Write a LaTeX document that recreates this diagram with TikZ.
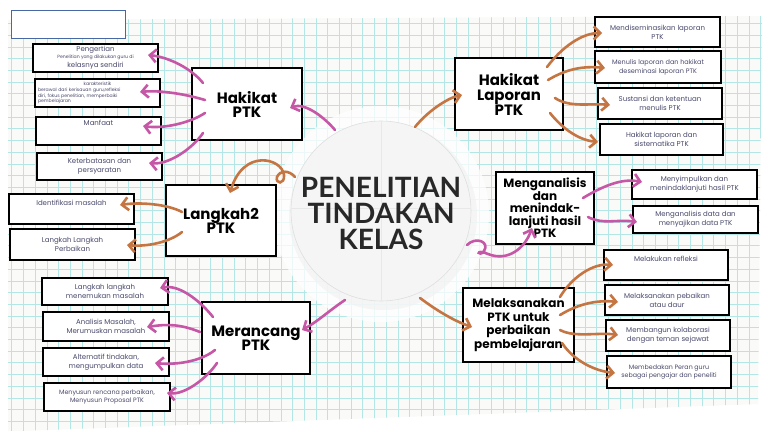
\documentclass[tikz,border=0pt]{standalone}
\usepackage{fontspec}
\usetikzlibrary{arrows.meta,calc}
\newfontfamily\handfont{Poppins}
\newfontfamily\leaffont{Poppins}
\newfontfamily\titlefont{Lato}
\definecolor{pinkc}{RGB}{198,86,166}
\definecolor{orangec}{RGB}{197,117,66}
\definecolor{gridc}{RGB}{180,230,230}
\definecolor{paperc}{RGB}{250,250,248}
\definecolor{leafc}{RGB}{72,72,108}
\definecolor{titlec}{RGB}{40,40,40}
\definecolor{framec}{RGB}{70,105,165}
\tikzset{
  mainbox/.style={draw=black, line width=1.4pt, fill=white, align=center, inner sep=0pt, text=black},
  mainfont/.style={font=\handfont\bfseries\fontsize{#1}{#1}\selectfont},
  leafbox/.style={draw=black, line width=1.3pt, fill=white, minimum width=125pt, minimum height=29pt,
    align=center, inner sep=1pt, text=leafc, font=\leaffont\fontsize{7}{9}\selectfont},
  pinkarrow/.style={draw=pinkc, line width=2.6pt, line cap=round, -{Straight Barb[length=6.5pt,width=13pt]}},
  orangearrow/.style={draw=orangec, line width=2.6pt, line cap=round, -{Straight Barb[length=6.5pt,width=13pt]}}
}
\begin{document}
\begin{tikzpicture}[x=1pt,y=-1pt]
\useasboundingbox (0,0) rectangle (768,431);
\fill[white] (0,0) rectangle (768,431);
% paper with grid
\begin{scope}
  \clip (8,20) -- (762,16) -- (758,404) -- (20,431) -- (8,431) -- cycle;
  \fill[paperc] (0,0) rectangle (768,431);
  \draw[gridc, line width=0.6pt] (0,0) grid[step=11.7pt] (768,431);
\end{scope}
% top-left frame
\node[draw=framec, line width=0.8pt, fill=white, minimum width=114pt, minimum height=28pt, inner sep=0pt] (tl) at (68,24) {};
% central circle
\fill[white, opacity=0.75] (381,214) circle (108);
\fill[gray!12, opacity=0.6] (383,216) circle (94);
\node[circle, fill={rgb,255:red,245;green,245;blue,245}, draw=gray!25, line width=0.6pt, minimum size=180pt, inner sep=0pt] (c) at (381,211) {};
\draw[gray!18, line width=0.5pt] (381,121) -- (381,301);
\draw[gray!18, line width=0.5pt] (291,208) -- (471,208);
\node[align=center, text=titlec, font=\titlefont\bfseries\fontsize{28}{26}\selectfont] (title) at (381,213) {PENELITIAN\\TINDAKAN\\KELAS};

% ---------- Hakikat PTK ----------
\node[mainbox, mainfont=15, minimum width=110pt, minimum height=72pt] (hk) at (247,104) {Hakikat\\[-1pt]PTK};
\node[leafbox, minimum height=28pt] (p1) at (95.5,58) {Pengertian\\[-2pt]\fontsize{4.6}{5.6}\selectfont Penelitian yang dilakukan guru di\\kelasnya sendiri};
\node[leafbox, minimum height=28pt, align=left, text width=119pt, font=\leaffont\fontsize{4.6}{5.8}\selectfont] (p2) at (97.5,93) {\hfill karakteristik\hfill\null\\berawal dari kerisauan guru,refleksi\\diri, fokus penelitian, memperbaiki\\pembelajaran};
\node[leafbox, minimum height=28pt] (p3) at (98.5,131) {Manfaat\\[7pt]\null};
\node[leafbox, minimum height=27pt] (p4) at (99.5,166.5) {Keterbatasan dan\\persyaratan};

% ---------- Langkah2 PTK ----------
\node[mainbox, mainfont=15, minimum width=110pt, minimum height=71pt] (lk) at (221,220.5) {Langkah2\\[-1pt]PTK};
\node[leafbox, minimum height=30pt] (l1) at (71.5,209) {Identifikasi masalah\\[3pt]\null};
\node[leafbox, minimum height=31pt] (l2) at (72.5,244.5) {Langkah Langkah\\Perbaikan};

% ---------- Merancang PTK ----------
\node[mainbox, mainfont=15, minimum width=108pt, minimum height=72pt] (mr) at (256,338) {Merancang\\[-1pt]PTK};
\node[leafbox, minimum width=126pt, minimum height=27pt] (m1) at (105,291.5) {Langkah langkah\\menemukan masalah};
\node[leafbox, minimum width=126pt, minimum height=29pt] (m2) at (106,326.5) {Analisis Masalah,\\Merumuskan masalah};
\node[leafbox, minimum width=126pt, minimum height=28pt] (m3) at (106,362) {Alternatif tindakan,\\mengumpulkan data};
\node[leafbox, minimum width=126pt, minimum height=28pt, font=\leaffont\fontsize{6.3}{8.5}\selectfont] (m4) at (107,397) {Menyusun rencana perbaikan,\\Menyusun Proposal PTK};

% ---------- Hakikat Laporan PTK ----------
\node[mainbox, mainfont=15, minimum width=108pt, minimum height=72pt] (hl) at (509,94) {Hakikat\\Laporan\\PTK};
\node[leafbox, minimum height=30pt] (h1) at (657.5,32) {Mendiseminasikan laporan\\PTK};
\node[leafbox, minimum width=126pt, minimum height=32pt, font=\leaffont\fontsize{6.5}{9}\selectfont] (h2) at (658,67) {Menulis laporan dan hakikat\\deseminasi laporan PTK};
\node[leafbox, minimum width=124pt, minimum height=31pt] (h3) at (660,103.5) {Sustansi dan ketentuan\\menulis PTK};
\node[leafbox, minimum width=123pt, minimum height=31pt] (h4) at (661.5,139.5) {Hakikat laporan dan\\sistematika PTK};

% ---------- Menganalisis ----------
\node[mainbox, minimum width=98pt, minimum height=72pt, font=\handfont\bfseries\fontsize{12}{12.5}\selectfont] (mg) at (545,208) {Menganalisis\\dan\\menindak-\\lanjuti hasil\\PTK};
\node[leafbox, minimum height=29pt] (g1) at (694.5,184.5) {Menyimpulkan dan\\menindaklanjuti hasil PTK};
\node[leafbox, minimum height=27pt] (g2) at (695.5,219.5) {Menganalisis data dan\\menyajikan data PTK};

% ---------- Melaksanakan ----------
\node[mainbox, minimum width=111pt, minimum height=74pt, font=\handfont\bfseries\fontsize{12}{13.5}\selectfont] (ml) at (518.5,325) {Melaksanakan\\PTK untuk\\perbaikan\\pembelajaran};
\node[leafbox, minimum width=124pt, minimum height=30pt] (e1) at (666,265) {Melakukan refleksi\\[3pt]\null};
\node[leafbox, minimum width=124pt, minimum height=30pt] (e2) at (667,300) {Melaksanakan pebaikan\\atau daur};
\node[leafbox, minimum width=124pt, minimum height=31pt] (e3) at (668,335.5) {Membangun kolaborasi\\dengan teman sejawat};
\node[leafbox, minimum width=124pt, minimum height=32pt, font=\leaffont\fontsize{6.3}{8.5}\selectfont] (e4) at (669,372) {Membedakan Peran guru\\sebagai pengajar dan peneliti};

% ---------- connectors ----------
% center -> Hakikat PTK
\draw[pinkarrow] ($(c)+(-46,-81)$) .. controls +(-10,-12) and +(15,-6) .. ($(hk)+(43,4)$);
\draw[pinkarrow] ($(hk)+(-44,-21)$) .. controls +(-12,-15) and +(20,2) .. ($(p1)+(52.5,-3)$);
\draw[pinkarrow] ($(hk)+(-42,-4)$) .. controls +(-20,-6) and +(20,-2) .. ($(p2)+(42.5,-1)$);
\draw[pinkarrow] ($(hk)+(-42,9)$) .. controls +(-15,10) and +(20,3) .. ($(p3)+(44.5,-5)$);
\draw[pinkarrow] ($(hk)+(-44,29)$) .. controls +(-10,15) and +(20,2) .. ($(p4)+(49.5,-3.5)$);

% center -> Langkah2 (curl)
\draw[orangearrow] ($(c)+(-86,-34)$) .. controls (289,170) and (280,170) .. (277,177)
   .. controls (275,184) and (285,185) .. (284,175)
   .. controls (282,158) and (243,148) .. ($(lk)+(9,-27.5)$);
\draw[orangearrow] ($(lk)+(-39,-8.5)$) .. controls +(-15,-8) and +(20,-3) .. ($(l1)+(48.5,-4)$);
\draw[orangearrow] ($(lk)+(-39,11.5)$) .. controls +(-12,10) and +(20,2) .. ($(l2)+(54.5,0.5)$);

% center -> Merancang
\draw[pinkarrow] ($(c)+(-36,89)$) .. controls +(-15,10) and +(15,-8) .. ($(mr)+(46,-8)$);
\draw[pinkarrow] ($(mr)+(-43,-21)$) .. controls +(-12,-15) and +(20,-4) .. ($(m1)+(55,-3.5)$);
\draw[pinkarrow] ($(mr)+(-56,-6)$) .. controls +(-20,-8) and +(20,-3) .. ($(m2)+(41,0.5)$);
\draw[pinkarrow] ($(mr)+(-41,12)$) .. controls +(-15,12) and +(20,2) .. ($(m3)+(49,1)$);
\draw[pinkarrow] ($(mr)+(-39,25)$) .. controls +(-10,15) and +(18,2) .. ($(m4)+(60,-4)$);

% center -> Hakikat Laporan
\draw[orangearrow] ($(c)+(34,-84)$) .. controls +(12,-15) and +(-15,3) .. ($(hl)+(-47,1)$);
\draw[orangearrow] ($(hl)+(38,-27)$) .. controls +(15,-20) and +(-20,0) .. ($(h1)+(-55.5,1)$);
\draw[orangearrow] ($(hl)+(39,-14)$) .. controls +(20,-12) and +(-20,-2) .. ($(h2)+(-53,1)$);
\draw[orangearrow] ($(hl)+(46,4)$) .. controls +(15,10) and +(-20,-2) .. ($(h3)+(-50,1.5)$);
\draw[orangearrow] ($(hl)+(41,19)$) .. controls +(12,15) and +(-20,-2) .. ($(h4)+(-63.5,2.5)$);

% center -> Menganalisis (curl)
\draw[pinkarrow] ($(c)+(86,34)$) .. controls (476,236) and (490,242) .. (484,251)
   .. controls (479,258) and (474,248) .. (488,254)
   .. controls (508,262) and (525,248) .. ($(mg)+(-13,20)$);
\draw[pinkarrow] ($(mg)+(38,-10)$) .. controls +(20,-12) and +(-20,-4) .. ($(g1)+(-52.5,-2.5)$);
\draw[pinkarrow] ($(mg)+(43,9)$) .. controls +(15,8) and +(-20,-3) .. ($(g2)+(-58.5,2.5)$);

% center -> Melaksanakan
\draw[orangearrow] ($(c)+(39,87)$) .. controls +(20,15) and +(-15,-5) .. ($(ml)+(-46.5,2)$);
\draw[orangearrow] ($(ml)+(41.5,-28)$) .. controls +(12,-20) and +(-20,-2) .. ($(e1)+(-53,0)$);
\draw[orangearrow] ($(ml)+(41.5,-10)$) .. controls +(20,-12) and +(-20,-2) .. ($(e2)+(-49,2)$);
\draw[orangearrow] ($(ml)+(41.5,5)$) .. controls +(15,8) and +(-20,-3) .. ($(e3)+(-50,-0.5)$);
\draw[orangearrow] ($(ml)+(43.5,18)$) .. controls +(12,18) and +(-20,-2) .. ($(e4)+(-54,1)$);
\end{tikzpicture}
\end{document}
